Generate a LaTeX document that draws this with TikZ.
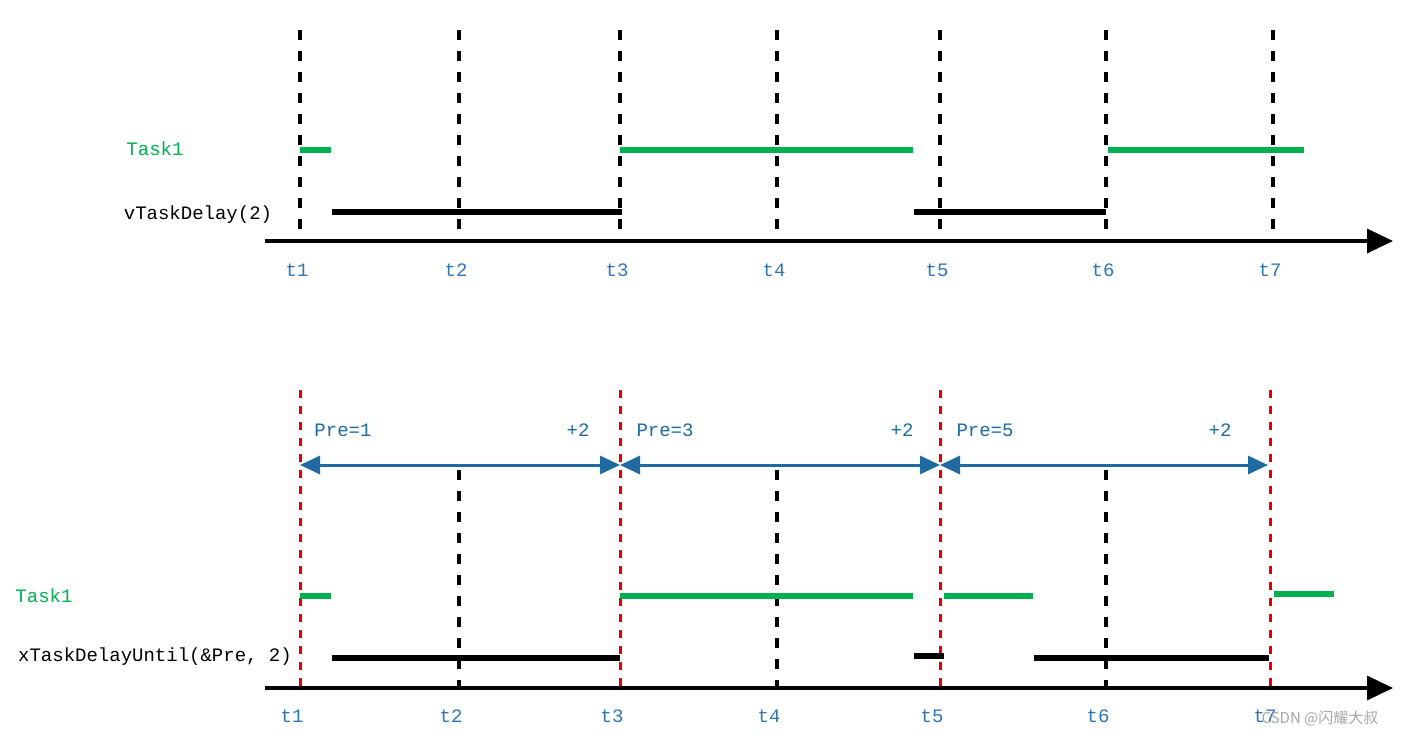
\documentclass[tikz,border=0pt]{standalone}
\usepackage{fontspec}
\setmainfont{Liberation Mono}
\newfontfamily\cjk{Noto Sans CJK SC}
\usetikzlibrary{arrows.meta}
\definecolor{tg}{RGB}{0,176,80}
\definecolor{tb}{RGB}{46,117,182}
\definecolor{ar}{RGB}{31,106,160}
\tikzset{
 vd/.style={line width=3.5pt,dash pattern=on 10pt off 11pt},
 rd/.style={line width=3pt,red!90!black,dash pattern=on 8pt off 8pt},
 gbar/.style={line width=6pt,tg},
 kbar/.style={line width=6pt,black},
 axis/.style={line width=3.5pt,-{Triangle[length=26pt,width=24pt]}},
 tl/.style={text=tb,font=\fontsize{19}{20}\selectfont},
 lab/.style={font=\fontsize{19}{20}\selectfont},
 dbl/.style={line width=3pt,ar,{Triangle[length=20pt,width=18pt]}-{Triangle[length=20pt,width=18pt]}}
}
\begin{document}
\begin{tikzpicture}[x=1pt,y=-1pt]
\useasboundingbox (0,0) rectangle (1401,737);
% top
\foreach \x/\n in {300/1,459/2,620/3,777/4,940/5,1106/6,1273/7}{
 \coordinate (a\n) at (\x,30); \coordinate (b\n) at (\x,240);
 \draw[vd] (a\n)--(b\n);
 \node[tl] (tt\n) at (\x-3,270) {t\n};}
\coordinate (ax0) at (265,241); \coordinate (ax1) at (1393,241);
\draw[axis] (ax0)--(ax1);
\node[lab,text=tg] (task) at (155,149) {Task1};
\node[lab] (vd) at (198,215) {vTaskDelay(2)};
\foreach \a/\b/\y [count=\i] in {300/331/150,620/913/150,1108/1304/150}{
 \coordinate (g\i) at (\a,\y); \coordinate (h\i) at (\b,\y); \draw[gbar] (g\i)--(h\i);}
\foreach \a/\b/\y [count=\i] in {332/622/212,914/1106/212}{
 \coordinate (k\i) at (\a,\y); \coordinate (l\i) at (\b,\y); \draw[kbar] (k\i)--(l\i);}
% bottom
\foreach \x/\n in {300/1,620/3,940/5,1270/7}{
 \coordinate (ra\n) at (\x,390); \coordinate (rb\n) at (\x,690);
 \draw[rd] (ra\n)--(rb\n);}
\foreach \x/\n in {459/2,777/4,1106/6}{
 \coordinate (ba\n) at (\x,470); \coordinate (bb\n) at (\x,688);
 \draw[vd] (ba\n)--(bb\n);}
\foreach \x/\n in {300/1,459/2,620/3,777/4,940/5,1106/6,1273/7}{
 \node[tl] (bt\n) at (\x-8,716) {t\n};}
\coordinate (bx0) at (265,688); \coordinate (bx1) at (1393,688);
\draw[axis] (bx0)--(bx1);
\foreach \a/\b [count=\i] in {300/620,620/940,940/1268}{
 \coordinate (p\i) at (\a,465); \coordinate (q\i) at (\b,465); \draw[dbl] (p\i)--(q\i);}
\foreach \x/\t [count=\i] in {343/Pre=1,578/+2,665/Pre=3,902/+2,985/Pre=5,1220/+2}{
 \node[tl,text=ar] (pl\i) at (\x,430) {\t};}
\node[lab,text=tg] (task2) at (44,596) {Task1};
\node[lab] (xd) at (155,657) {xTaskDelayUntil(\&Pre, 2)};
\foreach \a/\b/\y [count=\i] in {300/331/596,620/913/596,944/1033/596,1274/1334/594}{
 \coordinate (m\i) at (\a,\y); \coordinate (n\i) at (\b,\y); \draw[gbar] (m\i)--(n\i);}
\foreach \a/\b/\y [count=\i] in {332/620/658,914/944/656,1034/1269/658}{
 \coordinate (o\i) at (\a,\y); \coordinate (r\i) at (\b,\y); \draw[kbar] (o\i)--(r\i);}
\node[text=gray!70,font=\fontsize{15}{16}\selectfont\cjk] (wm) at (1320,718) {CSDN @闪耀大叔};
\end{tikzpicture}
\end{document}
